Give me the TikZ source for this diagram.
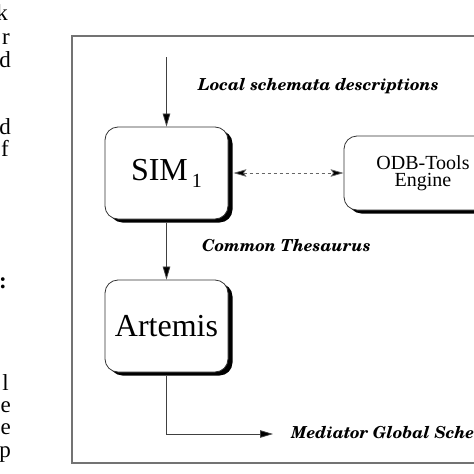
\documentclass[tikz,border=0pt]{standalone}
\usepackage{fontspec}
\setmainfont{Liberation Serif}
\newfontfamily\schola{TeX Gyre Schola}
\usetikzlibrary{arrows.meta,shadows}
\begin{document}
\begin{tikzpicture}[x=1pt,y=-1pt,
  box/.style={draw=black!80, line width=0.8pt, fill=white, rounded corners=13pt,
    drop shadow={shadow xshift=4.5pt, shadow yshift=-3.5pt, fill=black, opacity=1},
    inner sep=0pt, align=center},
  lbl/.style={font=\schola\bfseries\itshape\fontsize{16.5}{16.5}\selectfont, anchor=west, inner sep=0pt},
  frag/.style={font=\fontsize{23}{23}\selectfont, anchor=base east, inner sep=0pt},
  arr/.style={draw=black!75, line width=0.75pt, -{Stealth[length=13pt,width=7.5pt,inset=0pt,fill=black]}},
  darr/.style={draw=black!60, line width=0.75pt, dash pattern=on 3.5pt off 2.5pt,
    {Stealth[length=13pt,width=7.5pt,inset=2.5pt,fill=black]}-{Stealth[length=13pt,width=7.5pt,inset=2.5pt,fill=black]}}
]
\useasboundingbox (0,0) rectangle (474,474);
\clip (0,0) rectangle (474,474);
\fill[white] (0,0) rectangle (474,474);

% fragments of surrounding page text
\node[frag] (f1) at (8,20) {k};
\node[frag] (f2) at (10,44) {r};
\node[frag] (f3) at (11,67) {d};
\node[frag] (f4) at (11,134) {d};
\node[frag] (f5) at (9,156) {f};
\node[frag, font=\bfseries\fontsize{23}{23}\selectfont] (f6) at (7,288) {:};
\node[frag] (f7) at (9,390) {l};
\node[frag] (f8) at (11,412) {e};
\node[frag] (f9) at (11,434) {e};
\node[frag] (f10) at (11,457) {p};

% frame
\draw[black!55, line width=1.2pt] (72,36) rectangle (520,463);

% boxes
\node[box, minimum width=123pt, minimum height=92pt] (sim) at (166.5,173)
  {\fontsize{32}{32}\selectfont SIM\kern4pt\raisebox{-7pt}{\fontsize{20}{20}\selectfont 1}};
\node[box, minimum width=123pt, minimum height=92pt] (art) at (166.5,326)
  {\fontsize{32}{32}\selectfont Artemis};
\node[box, minimum width=158pt, minimum height=74pt, font=\fontsize{20}{17.5}\selectfont] (odb) at (423,173)
  {ODB-Tools\\Engine};

% labels
\node[lbl] (lsd) at (198,86) {Local schemata descriptions};
\node[lbl] (ct) at (202,246) {Common Thesaurus};
\node[lbl] (mgs) at (291,433) {Mediator Global Schema};

% connectors
\coordinate (in) at (166.5,57);
\coordinate (out) at (273,434);
\draw[arr] (in) -- (sim.north);
\draw[darr] ([xshift=5pt]sim.east) -- (odb.west);
\draw[arr] ([yshift=-3.5pt]sim.south) -- (art.north);
\draw[arr] ([yshift=-3.5pt]art.south) |- (out);
\end{tikzpicture}
\end{document}
